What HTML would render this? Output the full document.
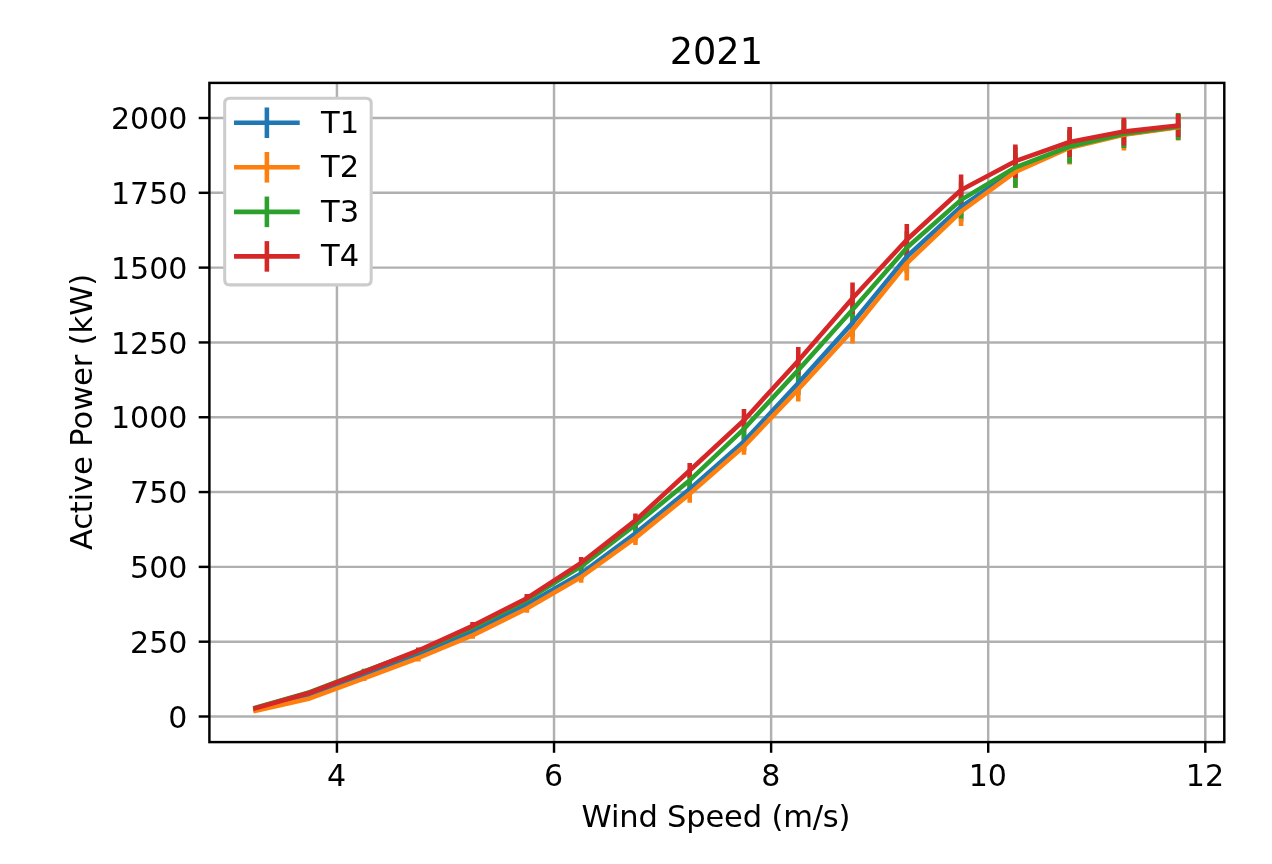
<!DOCTYPE html>
<html lang="en"><head><meta charset="utf-8"><title>2021</title>
<style>html,body{margin:0;padding:0;background:#fff;}svg{display:block;}text{font-family:"DejaVu Sans","Liberation Sans",sans-serif;fill:#000;}</style></head><body>
<svg width="1272" height="864" viewBox="0 0 1272 864">
<rect width="1272" height="864" fill="#fff"/>
<defs><clipPath id="ax"><rect x="209.4" y="82.9" width="1014.90" height="659.20"/></clipPath></defs>
<g stroke="#b0b0b0" stroke-width="2.444" fill="none" clip-path="url(#ax)">
<line x1="336.94" y1="82.9" x2="336.94" y2="742.1"/>
<line x1="554.03" y1="82.9" x2="554.03" y2="742.1"/>
<line x1="771.12" y1="82.9" x2="771.12" y2="742.1"/>
<line x1="988.21" y1="82.9" x2="988.21" y2="742.1"/>
<line x1="1205.30" y1="82.9" x2="1205.30" y2="742.1"/>
<line x1="209.4" y1="716.50" x2="1224.3" y2="716.50"/>
<line x1="209.4" y1="641.69" x2="1224.3" y2="641.69"/>
<line x1="209.4" y1="566.88" x2="1224.3" y2="566.88"/>
<line x1="209.4" y1="492.06" x2="1224.3" y2="492.06"/>
<line x1="209.4" y1="417.25" x2="1224.3" y2="417.25"/>
<line x1="209.4" y1="342.44" x2="1224.3" y2="342.44"/>
<line x1="209.4" y1="267.62" x2="1224.3" y2="267.62"/>
<line x1="209.4" y1="192.81" x2="1224.3" y2="192.81"/>
<line x1="209.4" y1="118.00" x2="1224.3" y2="118.00"/>
</g>
<g stroke-width="4.583" fill="none" clip-path="url(#ax)">
<path d="M255.53 708.80V710.40 M309.80 694.10V697.10 M364.08 672.50V677.50 M418.35 650.80V657.20 M472.62 627.30V635.10 M526.90 599.80V609.00 M581.17 567.90V579.30 M635.44 526.40V540.40 M689.71 481.10V497.10 M743.99 431.90V450.90 M798.26 371.10V395.10 M852.53 309.40V336.40 M906.80 240.80V272.80 M961.08 191.80V221.80 M1015.35 153.60V185.60 M1069.62 130.80V162.80 M1123.90 120.30V148.30 M1178.17 114.40V139.40" stroke="#1f77b4"/>
<path d="M255.53 710.00V711.60 M309.80 696.80V700.00 M364.08 675.70V681.10 M418.35 654.60V661.40 M472.62 632.10V638.70 M526.90 604.20V612.80 M581.17 571.30V582.70 M635.44 530.70V545.10 M689.71 485.00V502.80 M743.99 437.80V454.80 M798.26 377.30V401.50 M852.53 316.90V343.50 M906.80 246.00V280.60 M961.08 196.90V226.10 M1015.35 155.70V188.10 M1069.62 130.80V164.60 M1123.90 119.10V150.50 M1178.17 114.00V140.60" stroke="#ff7f0e"/>
<path d="M255.53 706.90V708.50 M309.80 690.50V693.70 M364.08 668.80V674.00 M418.35 647.90V654.30 M472.62 623.60V631.40 M526.90 595.30V604.50 M581.17 560.70V572.10 M635.44 517.70V531.70 M689.71 472.80V487.80 M743.99 418.40V439.40 M798.26 357.60V382.60 M852.53 295.30V324.30 M906.80 231.30V264.30 M961.08 181.40V218.40 M1015.35 147.10V187.70 M1069.62 129.60V163.40 M1123.90 119.70V147.90 M1178.17 113.00V140.00" stroke="#2ca02c"/>
<path d="M255.53 707.50V709.10 M309.80 691.25V694.25 M364.08 669.30V674.30 M418.35 647.40V653.60 M472.62 622.00V629.60 M526.90 593.90V602.50 M581.17 557.10V568.50 M635.44 513.40V527.40 M689.71 463.10V477.90 M743.99 408.90V431.50 M798.26 346.90V374.50 M852.53 282.40V314.00 M906.80 224.10V255.50 M961.08 174.40V205.60 M1015.35 144.40V178.00 M1069.62 127.00V157.00 M1123.90 117.80V145.40 M1178.17 114.10V136.90" stroke="#d62728"/>
<path d="M255.53 709.60 L309.80 695.60 L364.08 675.00 L418.35 654.00 L472.62 631.20 L526.90 604.40 L581.17 573.60 L635.44 533.40 L689.71 489.10 L743.99 441.40 L798.26 383.10 L852.53 322.90 L906.80 256.80 L961.08 206.80 L1015.35 169.60 L1069.62 146.80 L1123.90 134.30 L1178.17 126.90" stroke="#1f77b4" stroke-linecap="square" stroke-linejoin="round"/>
<path d="M255.53 710.80 L309.80 698.40 L364.08 678.40 L418.35 658.00 L472.62 635.40 L526.90 608.50 L581.17 577.00 L635.44 537.90 L689.71 493.90 L743.99 446.30 L798.26 389.40 L852.53 330.20 L906.80 263.30 L961.08 211.50 L1015.35 171.90 L1069.62 147.70 L1123.90 134.80 L1178.17 127.30" stroke="#ff7f0e" stroke-linecap="square" stroke-linejoin="round"/>
<path d="M255.53 707.70 L309.80 692.10 L364.08 671.40 L418.35 651.10 L472.62 627.50 L526.90 599.90 L581.17 566.40 L635.44 524.70 L689.71 480.30 L743.99 428.90 L798.26 370.10 L852.53 309.80 L906.80 247.80 L961.08 199.90 L1015.35 167.40 L1069.62 146.50 L1123.90 133.80 L1178.17 126.50" stroke="#2ca02c" stroke-linecap="square" stroke-linejoin="round"/>
<path d="M255.53 708.30 L309.80 692.75 L364.08 671.80 L418.35 650.50 L472.62 625.80 L526.90 598.20 L581.17 562.80 L635.44 520.40 L689.71 470.50 L743.99 420.20 L798.26 360.70 L852.53 298.20 L906.80 239.80 L961.08 190.00 L1015.35 161.20 L1069.62 142.00 L1123.90 131.60 L1178.17 125.50" stroke="#d62728" stroke-linecap="square" stroke-linejoin="round"/>
</g>
<g stroke="#000" stroke-width="2.444">
<line x1="336.94" y1="742.1" x2="336.94" y2="752.79"/>
<line x1="554.03" y1="742.1" x2="554.03" y2="752.79"/>
<line x1="771.12" y1="742.1" x2="771.12" y2="752.79"/>
<line x1="988.21" y1="742.1" x2="988.21" y2="752.79"/>
<line x1="1205.30" y1="742.1" x2="1205.30" y2="752.79"/>
<line x1="209.4" y1="716.50" x2="198.71" y2="716.50"/>
<line x1="209.4" y1="641.69" x2="198.71" y2="641.69"/>
<line x1="209.4" y1="566.88" x2="198.71" y2="566.88"/>
<line x1="209.4" y1="492.06" x2="198.71" y2="492.06"/>
<line x1="209.4" y1="417.25" x2="198.71" y2="417.25"/>
<line x1="209.4" y1="342.44" x2="198.71" y2="342.44"/>
<line x1="209.4" y1="267.62" x2="198.71" y2="267.62"/>
<line x1="209.4" y1="192.81" x2="198.71" y2="192.81"/>
<line x1="209.4" y1="118.00" x2="198.71" y2="118.00"/>
</g>
<rect x="209.4" y="82.9" width="1014.90" height="659.20" fill="none" stroke="#000" stroke-width="2.444" stroke-linejoin="miter"/>
<g font-size="31.0px">
<text x="336.54" y="786.1" text-anchor="middle" textLength="19.12" lengthAdjust="spacingAndGlyphs">4</text>
<text x="553.63" y="786.1" text-anchor="middle" textLength="19.12" lengthAdjust="spacingAndGlyphs">6</text>
<text x="770.72" y="786.1" text-anchor="middle" textLength="19.12" lengthAdjust="spacingAndGlyphs">8</text>
<text x="987.81" y="786.1" text-anchor="middle" textLength="38.24" lengthAdjust="spacingAndGlyphs">10</text>
<text x="1204.90" y="786.1" text-anchor="middle" textLength="38.24" lengthAdjust="spacingAndGlyphs">12</text>
<text x="187.4" y="727.65" text-anchor="end" textLength="19.12" lengthAdjust="spacingAndGlyphs">0</text>
<text x="187.4" y="652.84" text-anchor="end" textLength="57.36" lengthAdjust="spacingAndGlyphs">250</text>
<text x="187.4" y="578.02" text-anchor="end" textLength="57.36" lengthAdjust="spacingAndGlyphs">500</text>
<text x="187.4" y="503.21" text-anchor="end" textLength="57.36" lengthAdjust="spacingAndGlyphs">750</text>
<text x="187.4" y="428.40" text-anchor="end" textLength="76.48" lengthAdjust="spacingAndGlyphs">1000</text>
<text x="187.4" y="353.59" text-anchor="end" textLength="76.48" lengthAdjust="spacingAndGlyphs">1250</text>
<text x="187.4" y="278.77" text-anchor="end" textLength="76.48" lengthAdjust="spacingAndGlyphs">1500</text>
<text x="187.4" y="203.96" text-anchor="end" textLength="76.48" lengthAdjust="spacingAndGlyphs">1750</text>
<text x="187.4" y="129.15" text-anchor="end" textLength="76.48" lengthAdjust="spacingAndGlyphs">2000</text>
</g>
<g font-size="30.556px">
<text x="715.95" y="827.3" text-anchor="middle" letter-spacing="-0.19">Wind Speed (m/s)</text>
<text transform="translate(92.1 412.00) rotate(-90)" text-anchor="middle" letter-spacing="-0.11">Active Power (kW)</text>
</g>
<text x="716.35" y="64.3" text-anchor="middle" font-size="36.667px">2021</text>
<path d="M229.90 98.2H366.00Q371.2 98.2 371.2 103.40V279.65Q371.2 284.85 366.00 284.85H229.90Q224.7 284.85 224.7 279.65V103.40Q224.7 98.2 229.90 98.2Z" fill="#fff" stroke="#ccc" stroke-width="3.056"/>
<g stroke="#1f77b4" stroke-width="4.583"><line x1="266.88" y1="107.47" x2="266.88" y2="138.03"/><line x1="236.32" y1="122.75" x2="297.43" y2="122.75" stroke-linecap="square"/></g>
<text x="321.08" y="133.0" font-size="30.556px">T1</text>
<g stroke="#ff7f0e" stroke-width="4.583"><line x1="266.88" y1="152.02" x2="266.88" y2="182.58"/><line x1="236.32" y1="167.30" x2="297.43" y2="167.30" stroke-linecap="square"/></g>
<text x="321.08" y="177.0" font-size="30.556px">T2</text>
<g stroke="#2ca02c" stroke-width="4.583"><line x1="266.88" y1="196.57" x2="266.88" y2="227.13"/><line x1="236.32" y1="211.85" x2="297.43" y2="211.85" stroke-linecap="square"/></g>
<text x="321.08" y="222.0" font-size="30.556px">T3</text>
<g stroke="#d62728" stroke-width="4.583"><line x1="266.88" y1="241.12" x2="266.88" y2="271.68"/><line x1="236.32" y1="256.40" x2="297.43" y2="256.40" stroke-linecap="square"/></g>
<text x="321.08" y="266.0" font-size="30.556px">T4</text>
</svg></body></html>
